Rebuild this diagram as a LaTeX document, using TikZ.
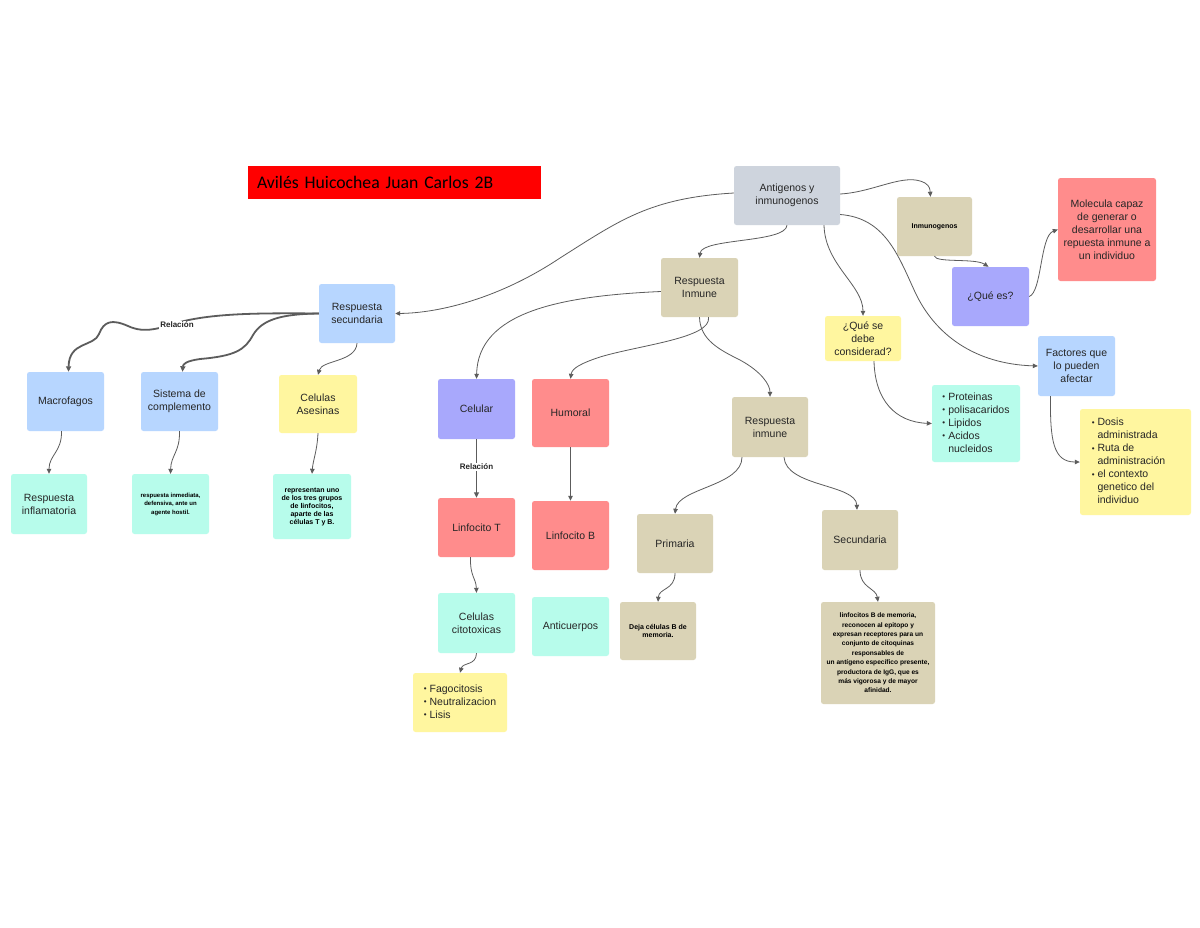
\documentclass[tikz,border=0pt]{standalone}
\usepackage{fontspec}
\setmainfont{Liberation Sans}
\newfontfamily\titlefont{Carlito}
\usetikzlibrary{arrows.meta}
\definecolor{cgray}{HTML}{CED4DD}
\definecolor{ctan}{HTML}{DAD3B6}
\definecolor{cred}{HTML}{FF8C8C}
\definecolor{cpurple}{HTML}{A8A8FC}
\definecolor{cblue}{HTML}{B7D6FF}
\definecolor{cyellow}{HTML}{FFF69F}
\definecolor{cmint}{HTML}{B7FCEB}
\definecolor{ctext}{HTML}{262626}
\definecolor{cline}{HTML}{5C5C5C}
\definecolor{ctitle}{HTML}{FF0000}
\newcommand\lbul{{\fontsize{8}{8}\selectfont\raisebox{0.5pt}{•}}}
\begin{document}
\begin{tikzpicture}[x=1pt,y=-1pt,
  box/.style={rectangle, rounded corners=2.5pt, draw=none, inner sep=0pt, align=center, text=ctext, font=\fontsize{10.5}{13}\selectfont},
  smallbold/.style={font=\bfseries\fontsize{7}{8}\selectfont, text=black},
  conn/.style={draw=cline, line width=0.8pt, -{Triangle[length=5pt,width=4.5pt]}},
  thickconn/.style={draw=cline, line width=1.8pt, -{Triangle[length=5.5pt,width=5pt]}},
  lbl/.style={fill=white, inner sep=1pt, text=ctext, font=\bfseries\fontsize{8}{9}\selectfont}]
\useasboundingbox[fill=white] (0,0) rectangle (1200,927);

% title
\node[fill=ctitle, text width=275pt, inner xsep=9pt, inner ysep=0pt, minimum height=33pt, align=left, text=black, font=\titlefont\fontsize{17.7}{20}\selectfont] (title) at (394.5,182.5) {Avilés Huicochea Juan Carlos 2B};

% boxes
\node[box, fill=cgray, minimum width=106pt, minimum height=59pt] (ant) at (787,195.5) {Antigenos y\\inmunogenos};
\node[box, fill=ctan, minimum width=75pt, minimum height=59pt, smallbold] (inm) at (934.5,226.5) {Inmunogenos};
\node[box, fill=cred, minimum width=98pt, minimum height=103pt] (mol) at (1107,229.5) {Molecula capaz\\de generar o\\desarrollar una\\repuesta inmune a\\un individuo};
\node[box, fill=cpurple, minimum width=77pt, minimum height=59pt] (que) at (990.5,296.5) {¿Qué es?};
\node[box, fill=ctan, minimum width=77pt, minimum height=59pt] (ri1) at (699.5,287.5) {Respuesta\\Inmune};
\node[box, fill=cyellow, minimum width=76pt, minimum height=45pt] (qsd) at (863,338.5) {¿Qué se\\debe\\considerad?};
\node[box, fill=cblue, minimum width=77pt, minimum height=60pt] (fac) at (1076.5,366) {Factores que\\lo pueden\\afectar};
\node[box, fill=cmint, minimum width=88pt, minimum height=77pt] (pro) at (976,423.5) {\begin{tabular}{@{}l@{\hspace{3pt}}l@{}}\lbul & Proteinas\\ \lbul & polisacaridos\\ \lbul & Lipidos\\ \lbul & Acidos\\ & nucleidos\end{tabular}};
\node[box, fill=cyellow, minimum width=111pt, minimum height=106pt] (dos) at (1135.5,462) {\begin{tabular}{@{}l@{\hspace{3pt}}l@{}}\lbul & Dosis\\ & administrada\\ \lbul & Ruta de\\ & administración\\ \lbul & el contexto\\ & genetico del\\ & individuo\end{tabular}\hspace{14pt}};

\node[box, fill=cblue, minimum width=76pt, minimum height=59pt] (rsec) at (357,313.5) {Respuesta\\secundaria};
\node[box, fill=cblue, minimum width=77pt, minimum height=59pt] (mac) at (65.5,401.5) {Macrofagos};
\node[box, fill=cblue, minimum width=77pt, minimum height=59pt] (sis) at (179.5,401.5) {Sistema de\\complemento};
\node[box, fill=cyellow, minimum width=78pt, minimum height=58pt] (cas) at (318,404) {Celulas\\Asesinas};
\node[box, fill=cmint, minimum width=76pt, minimum height=60pt] (rinf) at (49,504) {Respuesta\\inflamatoria};
\node[box, fill=cmint, minimum width=77pt, minimum height=60pt, font=\bfseries\fontsize{6}{8.5}\selectfont, text=black] (rinm) at (170.5,504) {respuesta inmediata,\\defensiva, ante un\\agente hostil.};
\node[box, fill=cmint, minimum width=78pt, minimum height=65pt, smallbold] (rep) at (312,506.5) {representan uno\\de los tres grupos\\de linfocitos,\\aparte de las\\células T y B.};

\node[box, fill=cpurple, minimum width=77pt, minimum height=60pt] (cel) at (476.5,409) {Celular};
\node[box, fill=cred, minimum width=77pt, minimum height=68pt] (hum) at (570.5,413) {Humoral};
\node[box, fill=cred, minimum width=77pt, minimum height=59pt] (lt) at (476.5,527.5) {Linfocito T};
\node[box, fill=cred, minimum width=77pt, minimum height=69pt] (lb) at (570.5,535.5) {Linfocito B};
\node[box, fill=cmint, minimum width=77pt, minimum height=60pt] (cc) at (476.5,623) {Celulas\\citotoxicas};
\node[box, fill=cmint, minimum width=77pt, minimum height=59pt] (ac) at (570.5,626.5) {Anticuerpos};
\node[box, fill=cyellow, minimum width=94pt, minimum height=59pt] (fag) at (460,702.5) {\begin{tabular}{@{}l@{\hspace{3pt}}l@{}}\lbul & Fagocitosis\\ \lbul & Neutralizacion\\ \lbul & Lisis\end{tabular}};

\node[box, fill=ctan, minimum width=76pt, minimum height=60pt] (ri2) at (770,427) {Respuesta\\inmune};
\node[box, fill=ctan, minimum width=76pt, minimum height=59pt] (pri) at (675,543.5) {Primaria};
\node[box, fill=ctan, minimum width=76pt, minimum height=60pt] (sec) at (860,540) {Secundaria};
\node[box, fill=ctan, minimum width=76pt, minimum height=58pt, smallbold] (dej) at (658,631) {Deja células B de\\memoria.};
\node[box, fill=ctan, minimum width=114pt, minimum height=102pt, font=\bfseries\fontsize{6.6}{9.4}\selectfont, text=black] (lbm) at (878,653) {linfocitos B de memoria,\\reconocen al epitopo y\\expresan receptores para un\\conjunto de citoquinas\\responsables de\\un antígeno específico presente,\\productora de IgG, que es\\más vigorosa y de mayor\\afinidad.};

% connectors
\draw[conn] ([yshift=2.5pt]ant.west) .. controls (650,198) and (620,220) .. (560,258) .. controls (500,298) and (440,313) .. (rsec.east);
\draw[conn] (ant.south) .. controls (786,243) and (702,238) .. (ri1.north);
\draw[conn] ([yshift=1.5pt]ant.east) .. controls (875,192) and (905,172) .. (925,183) .. controls (930,186) and (930,190) .. ([xshift=-4pt]inm.north);
\draw[conn] ([xshift=37pt]ant.south) .. controls (825,265) and (863,285) .. (qsd.north);
\draw[conn] ([yshift=-19pt]ant.east) .. controls (885,218) and (898,255) .. (915,292) .. controls (935,335) and (975,364) .. (fac.west);
\draw[conn] (inm.south) .. controls (936,263) and (975,258) .. ([xshift=-2pt]que.north);
\draw[conn] (que.east) .. controls (1042,292) and (1040,236) .. (mol.west);
\draw[conn] ([xshift=11pt]qsd.south) .. controls (875,400) and (895,422) .. (pro.west);
\draw[conn] ([xshift=-26pt]fac.south) .. controls (1050,440) and (1053,462) .. (dos.west);
\draw[conn] ([yshift=-4pt]ri1.west) .. controls (560,296) and (478,312) .. (cel.north);
\draw[conn] ([xshift=9pt]ri1.south) .. controls (712,338) and (640,345) .. (600,357) .. controls (582,363) and (572,368) .. (hum.north);
\draw[conn] (ri1.south) .. controls (700,340) and (720,350) .. (740,360) .. controls (762,372) and (770,385) .. (ri2.north);

\draw[thickconn] (rsec.west) .. controls (262,313) and (215,313) .. (180,322) .. controls (160,328) and (145,334) .. (128,326) .. controls (112,319) and (104,321) .. (99,334) .. controls (94,347) and (69,341) .. ([xshift=3pt]mac.north);
\node[lbl] (rel1) at (177,325) {Relación};
\draw[thickconn] (rsec.west) .. controls (280,314) and (262,320) .. (253,335) .. controls (245,350) and (235,356) .. (200,359) .. controls (186,361) and (183,364) .. ([xshift=3pt]sis.north);
\draw[conn] (rsec.south) .. controls (356,362) and (322,360) .. (cas.north);
\draw[conn] ([xshift=-4pt]mac.south) .. controls (62,452) and (49,455) .. (rinf.north);
\draw[conn] (sis.south) .. controls (180,452) and (171,455) .. (rinm.north);
\draw[conn] (cas.south) .. controls (317,452) and (313,460) .. (rep.north);

\draw[thickconn] (cel.south) -- (lt.north);
\node[lbl] (rel2) at (476.5,467) {Relación};
\draw[conn, line width=1.3pt] (hum.south) -- (lb.north);
\draw[conn] ([xshift=-6pt]lt.south) .. controls (470,577) and (476,578) .. (cc.north);
\draw[conn] (cc.south) .. controls (476,666) and (463,662) .. (fag.north);
\draw[conn] ([xshift=-28pt]ri2.south) .. controls (742,486) and (678,488) .. (pri.north);
\draw[conn] ([xshift=14pt]ri2.south) .. controls (786,487) and (856,484) .. ([xshift=-3pt]sec.north);
\draw[conn] (pri.south) .. controls (675,590) and (659,588) .. (dej.north);
\draw[conn] (sec.south) .. controls (860,588) and (876,588) .. (lbm.north);
\end{tikzpicture}
\end{document}
